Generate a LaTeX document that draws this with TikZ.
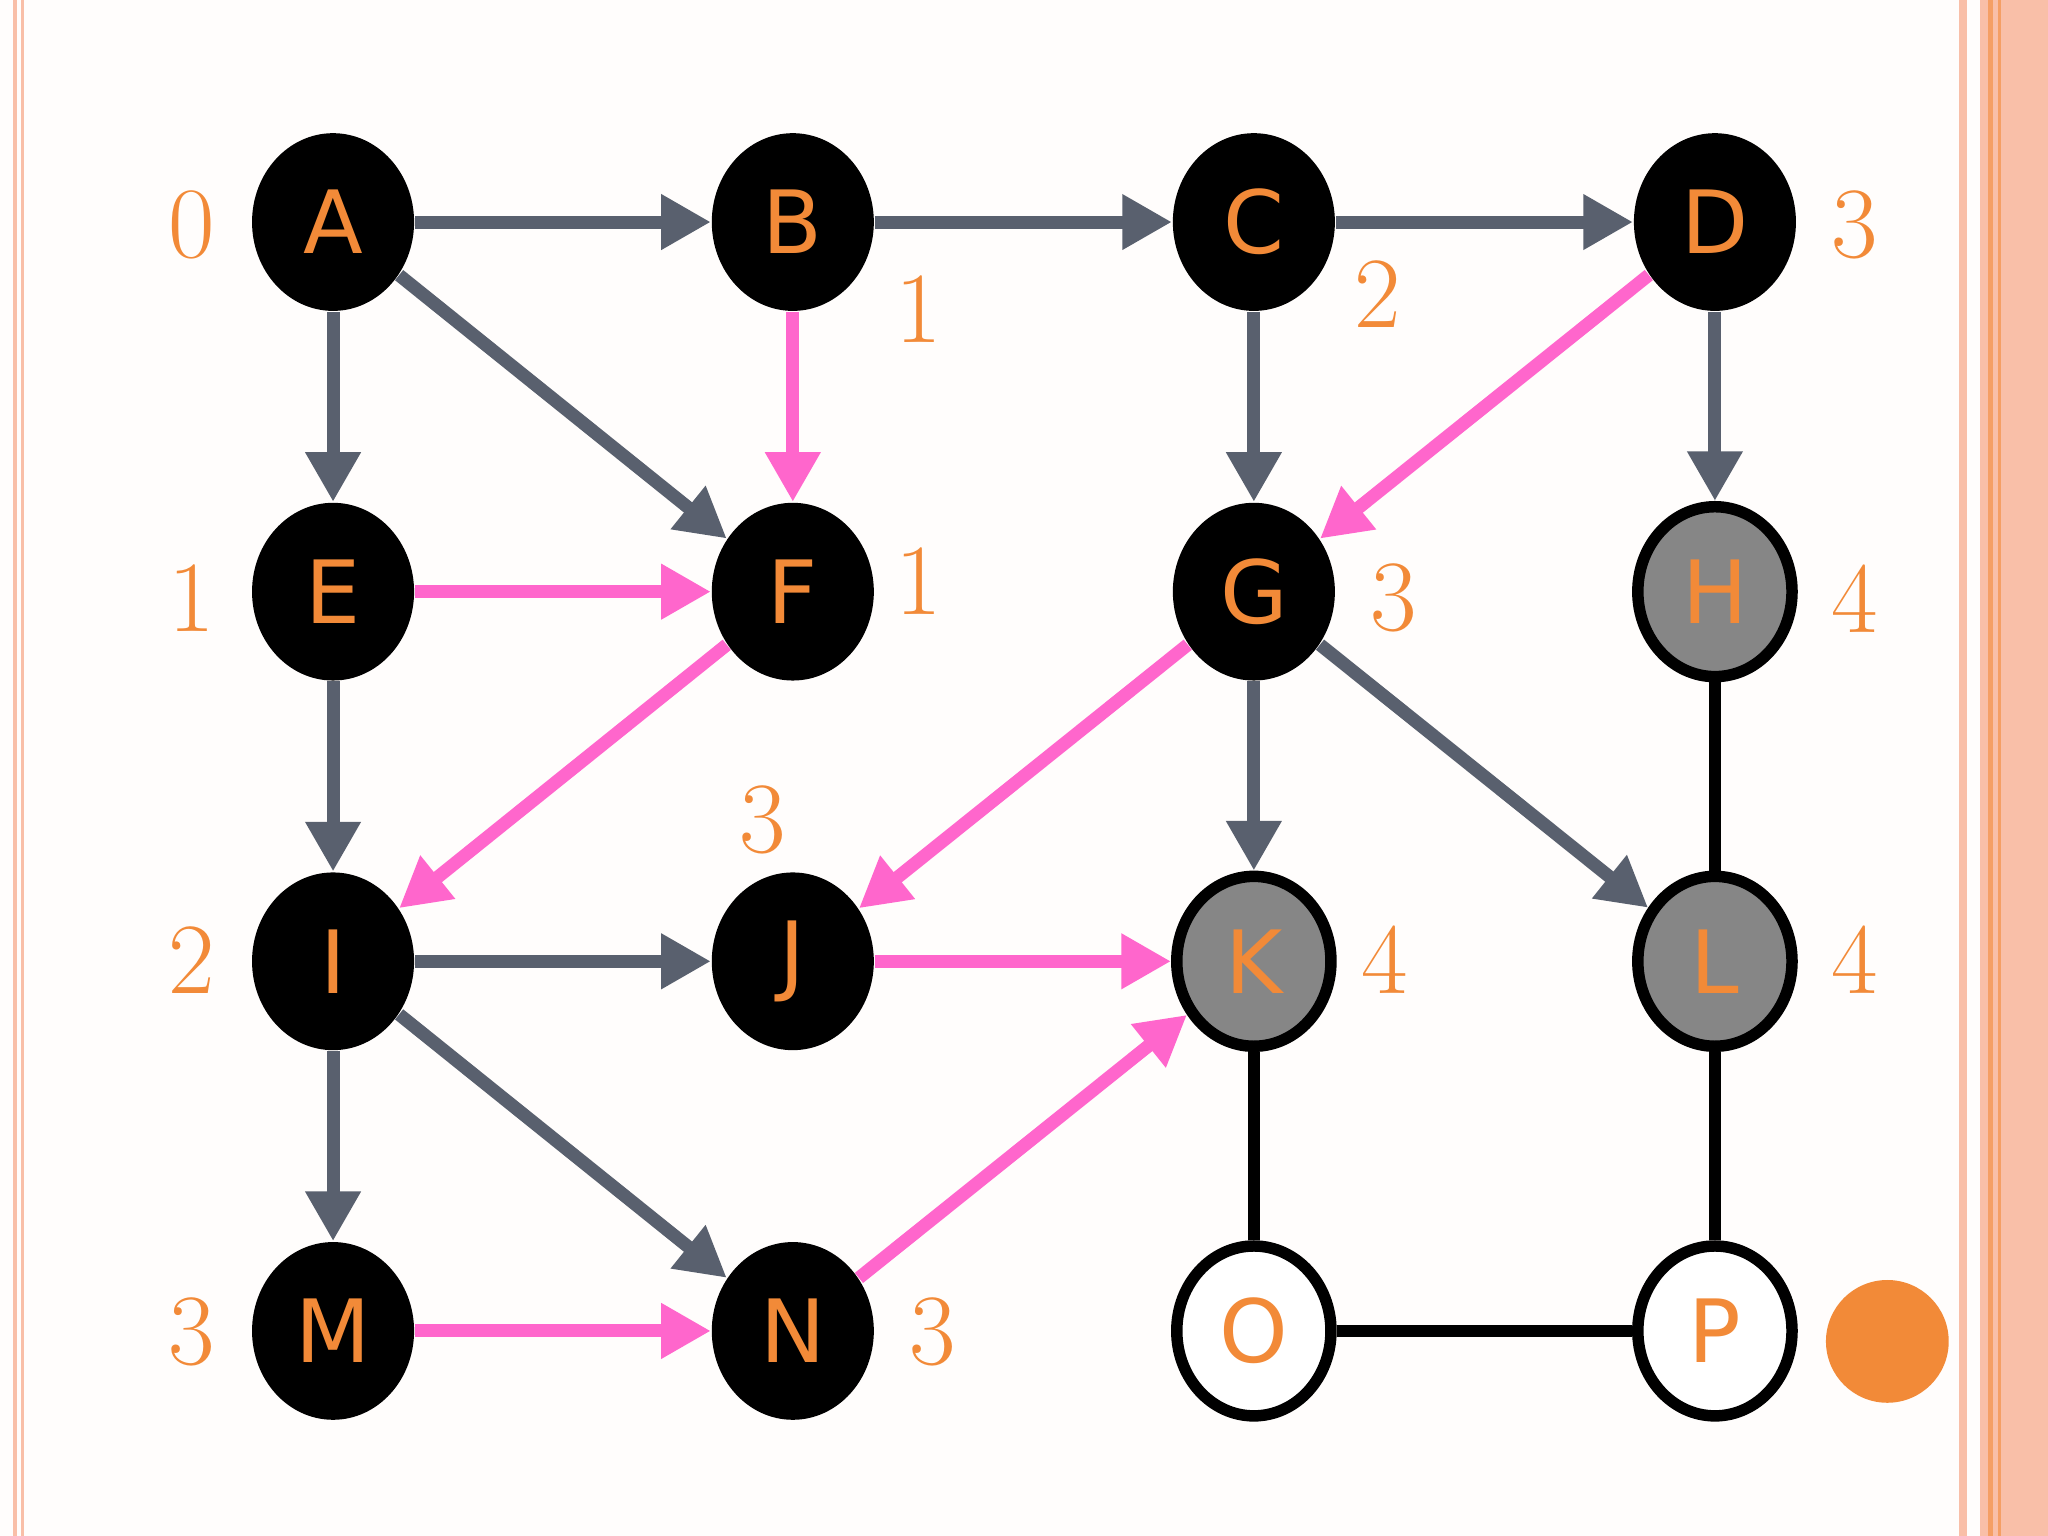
\documentclass[tikz,border=0pt]{standalone}
\usepackage{fontspec}
\newfontfamily\lett{DejaVu Sans}
\usetikzlibrary{arrows.meta,shapes.geometric}
\definecolor{org}{HTML}{F28A38}
\definecolor{gr}{HTML}{59606E}
\definecolor{pk}{HTML}{FF66CC}
\definecolor{brd}{HTML}{F9BFA8}
\begin{document}
\begin{tikzpicture}[x=0.01cm,y=-0.01cm,
  v/.style={ellipse,minimum width=1.24cm,minimum height=1.36cm,inner sep=0pt,fill=black,text=org,font=\lett\fontsize{19}{20}\selectfont},
  gv/.style={v,fill=gray!95!white,draw=black,line width=2.5pt,minimum width=1.18cm,minimum height=1.30cm},
  wv/.style={v,fill=white,draw=black,line width=2.5pt,minimum width=1.18cm,minimum height=1.30cm},
  num/.style={text=org,font=\fontsize{22}{24}\selectfont},
  ga/.style={draw=gr,line width=0.1cm,-{Triangle[width=0.4cm,length=0.38cm]},fill=gr},
  pa/.style={draw=pk,line width=0.1cm,-{Triangle[width=0.4cm,length=0.38cm]},fill=pk},
  bl/.style={draw=black,line width=2.5pt}]
\fill[white!97!brd] (0,0) rectangle (1568,1176);
\useasboundingbox (0,0) rectangle (1568,1176);
\fill[brd] (10,0) rectangle (13,1176);
\fill[brd] (16,0) rectangle (18,1176);
\fill[brd] (1500,0) rectangle (1506,1176);
\fill[brd] (1516,0) rectangle (1568,1176);
\fill[org!60!brd] (1522,0) rectangle (1526,1176);
\fill[org!60!brd] (1530,0) rectangle (1532,1176);
\fill[org] (1445,1027) circle (47);
\node[v] (A) at (255,170) {A};
\node[v] (B) at (607,170) {B};
\node[v] (C) at (960,170) {C};
\node[v] (D) at (1313,170) {D};
\node[v] (E) at (255,453) {E};
\node[v] (F) at (607,453) {F};
\node[v] (G) at (960,453) {G};
\node[gv] (H) at (1313,453) {H};
\node[v] (I) at (255,736) {I};
\node[v] (J) at (607,736) {J};
\node[gv] (K) at (960,736) {K};
\node[gv] (L) at (1313,736) {L};
\node[v] (M) at (255,1019) {M};
\node[v] (N) at (607,1019) {N};
\node[wv] (O) at (960,1019) {O};
\node[wv] (P) at (1313,1019) {P};
\draw[bl] (H)--(L); \draw[bl] (K)--(O); \draw[bl] (L)--(P); \draw[bl] (O)--(P);
\draw[ga] (A)--(B); \draw[ga] (B)--(C); \draw[ga] (C)--(D);
\draw[ga] (A)--(E); \draw[ga] (A)--(F); \draw[ga] (C)--(G); \draw[ga] (D)--(H);
\draw[ga] (E)--(I); \draw[ga] (G)--(K); \draw[ga] (G)--(L);
\draw[ga] (I)--(J); \draw[ga] (I)--(M); \draw[ga] (I)--(N);
\draw[pa] (B)--(F); \draw[pa] (E)--(F); \draw[pa] (D)--(G); \draw[pa] (F)--(I);
\draw[pa] (G)--(J); \draw[pa] (J)--(K); \draw[pa] (N)--(K); \draw[pa] (M)--(N);
\node[num] (nA) at (147,172) {0};
\node[num] (nB) at (703,237) {1};
\node[num] (nC) at (1055,225) {2};
\node[num] (nD) at (1420,172) {3};
\node[num] (nE) at (147,458) {1};
\node[num] (nF) at (703,445) {1};
\node[num] (nG) at (1067,458) {3};
\node[num] (nH) at (1420,458) {4};
\node[num] (nI) at (147,735) {2};
\node[num] (nJ) at (584,628) {3};
\node[num] (nK) at (1060,735) {4};
\node[num] (nL) at (1420,735) {4};
\node[num] (nM) at (147,1020) {3};
\node[num] (nN) at (714,1020) {3};
\end{tikzpicture}
\end{document}
